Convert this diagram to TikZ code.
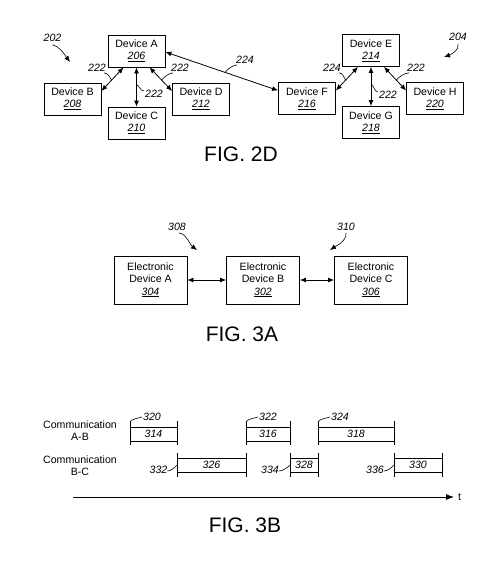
\documentclass[tikz,border=0pt]{standalone}
\usepackage{fontspec}
\setmainfont{Liberation Sans}
\usetikzlibrary{arrows.meta,calc}
\begin{document}
\begin{tikzpicture}[x=1pt,y=-1pt,
  every node/.style={font=\fontsize{10.6}{12.3}\selectfont},
  dev/.style={draw, line width=0.8pt, minimum width=57pt, minimum height=32pt, align=center, inner sep=0pt},
  edev/.style={draw, line width=0.8pt, minimum width=73pt, minimum height=48pt, align=center, inner sep=0pt},
  biarrow/.style={{Latex[length=6pt,width=5pt]}-{Latex[length=6pt,width=5pt]}, line width=0.8pt},
  leader/.style={line width=0.6pt},
  curlyarrow/.style={line width=0.6pt, -{Latex[length=6pt,width=5pt]}},
  refnum/.style={font=\fontsize{10.6}{12.3}\selectfont\itshape, inner sep=1pt},
  figlabel/.style={font=\fontsize{21}{24}\selectfont, inner sep=0pt},
  bar/.style={line width=0.8pt},
]
\useasboundingbox (0,0) rectangle (500,581);

% ---------------- FIG. 2D ----------------
\node[dev] (A) at (136.5,51) {Device A\\\underline{\textit{206}}};
\node[dev] (B) at (72.5,99) {Device B\\\underline{\textit{208}}};
\node[dev] (C) at (136.5,123) {Device C\\\underline{\textit{210}}};
\node[dev] (D) at (201,99) {Device D\\\underline{\textit{212}}};
\node[dev] (E) at (371,50.5) {Device E\\\underline{\textit{214}}};
\node[dev] (F) at (307,98.5) {Device F\\\underline{\textit{216}}};
\node[dev] (G) at (371,122.5) {Device G\\\underline{\textit{218}}};
\node[dev] (H) at (435,98.5) {Device H\\\underline{\textit{220}}};

\draw[biarrow] ($(A.south)+(-13,0)$) -- ($(B.east)+(0,-8)$) coordinate[pos=0.54] (ab);
\draw[biarrow] (A.south) -- (C.north) coordinate[pos=0.45] (ac);
\draw[biarrow] ($(A.south)+(13,0)$) -- ($(D.west)+(0,-8)$) coordinate[pos=0.54] (ad);
\draw[biarrow] ($(A.east)+(0,1)$) -- ($(F.west)+(0,-8)$) coordinate[pos=0.53] (af);
\draw[biarrow] ($(E.south)+(-13,0)$) -- ($(F.east)+(0,-8)$) coordinate[pos=0.56] (ef);
\draw[biarrow] (E.south) -- (G.north) coordinate[pos=0.45] (eg);
\draw[biarrow] ($(E.south)+(13,0)$) -- ($(H.west)+(0,-8)$) coordinate[pos=0.56] (eh);

\node[refnum] (l1) at (97,68) {222};
\node[refnum] (l2) at (180,68) {222};
\node[refnum] (l3) at (154,94) {222};
\node[refnum] (l4) at (245,60) {224};
\node[refnum] (l5) at (332,68) {224};
\node[refnum] (l6) at (416,68) {222};
\node[refnum] (l7) at (388,95) {222};
\draw[leader] ($(l1.south east)+(-3,0)$) .. controls +(4,0) and +(-2,-3) .. (ab);
\draw[leader] ($(l2.south west)+(3,0)$) .. controls +(-4,0) and +(2,-3) .. (ad);
\draw[leader] ($(l3.west)+(0,-3)$) .. controls +(-4,0) and +(3,0) .. (ac);
\draw[leader] ($(l4.south west)+(2,0)$) .. controls +(-4,0) and +(2,-3) .. (af);
\draw[leader] ($(l5.south east)+(-3,0)$) .. controls +(4,0) and +(-2,-3) .. (ef);
\draw[leader] ($(l6.south west)+(3,0)$) .. controls +(-4,0) and +(2,-3) .. (eh);
\draw[leader] ($(l7.west)+(0,-3)$) .. controls +(-4,0) and +(3,0) .. (eg);

\node[refnum] (n202) at (52.5,38) {202};
\coordinate (p202) at (70,62);
\draw[curlyarrow] ($(n202.south)+(0,2)$) .. controls +(8,2) and +(-6,-8) .. (p202);
\node[refnum] (n204) at (458,37) {204};
\coordinate (p204) at (444,57);
\draw[curlyarrow] ($(n204.south)+(0,2)$) .. controls +(2,6) and +(6,-2) .. (p204);

\node[figlabel] (fig2d) at (241,154.5) {FIG. 2D};

% ---------------- FIG. 3A ----------------
\node[edev] (EA) at (150.5,280) {Electronic\\Device A\\\underline{\textit{304}}};
\node[edev] (EB) at (263,280) {Electronic\\Device B\\\underline{\textit{302}}};
\node[edev] (EC) at (371,280) {Electronic\\Device C\\\underline{\textit{306}}};
\draw[biarrow] (EA.east) -- (EB.west);
\draw[biarrow] (EB.east) -- (EC.west);

\node[refnum] (n308) at (177,227) {308};
\coordinate (p308) at (197,250);
\draw[curlyarrow] ($(n308.south)+(2,1)$) .. controls +(8,1) and +(-8,-6) .. (p308);
\node[refnum] (n310) at (346,227) {310};
\coordinate (p310) at (330,250);
\draw[curlyarrow] ($(n310.south)+(0,1)$) .. controls +(1,8) and +(6,-4) .. (p310);

\node[figlabel] (fig3a) at (242,334.5) {FIG. 3A};

% ---------------- FIG. 3B ----------------
\node[align=center] (cab) at (80,431) {Communication\\A-B};
\node[align=center] (cbc) at (80,465.5) {Communication\\B-C};

\foreach \xa/\xb/\lab/\nm in {130/177/314/s1, 246/290/316/s2, 318/394/318/s3} {
  \draw[bar] (\xa,427) -- (\xb,427) (\xa,441) -- (\xb,441)
             (\xa,421) -- (\xa,445) (\xb,421) -- (\xb,445);
  \node[refnum] (\nm) at ({(\xa+\xb)/2},434) {\lab};
  \coordinate (\nm top) at (\xa,422);
}
\foreach \xa/\xb/\lab/\nm in {177/246/326/r1, 290/318/328/r2, 394/442/330/r3} {
  \draw[bar] (\xa,458) -- (\xb,458) (\xa,472) -- (\xb,472)
             (\xa,453) -- (\xa,477) (\xb,453) -- (\xb,477);
  \node[refnum] (\nm) at ({(\xa+\xb)/2},465) {\lab};
  \coordinate (\nm mid) at (\xa,465);
}

\node[refnum] (n320) at (152,417) {320};
\node[refnum] (n322) at (268,417) {322};
\node[refnum] (n324) at (340,417) {324};
\draw[leader] (s1top) .. controls +(1,-3) and +(-3,1) .. (n320.west);
\draw[leader] (s2top) .. controls +(1,-3) and +(-3,1) .. (n322.west);
\draw[leader] (s3top) .. controls +(1,-3) and +(-3,1) .. (n324.west);

\node[refnum] (n332) at (158.5,470) {332};
\node[refnum] (n334) at (270,470) {334};
\node[refnum] (n336) at (375,470) {336};
\draw[leader] ($(n332.east)+(-1,1)$) .. controls +(4,0) and +(-2,2) .. (r1mid);
\draw[leader] ($(n334.east)+(-1,1)$) .. controls +(4,0) and +(-2,2) .. (r2mid);
\draw[leader] ($(n336.east)+(-1,1)$) .. controls +(4,0) and +(-2,2) .. (r3mid);

\coordinate (t0) at (73,497);
\node[inner sep=0pt, anchor=west] (tlab) at (458,497.5) {t};
\draw[line width=0.8pt, -{Latex[length=8pt,width=6pt]}] (t0) -- ($(tlab.west)+(-4,-0.5)$);

\node[figlabel] (fig3b) at (245,525.5) {FIG. 3B};
\end{tikzpicture}
\end{document}
